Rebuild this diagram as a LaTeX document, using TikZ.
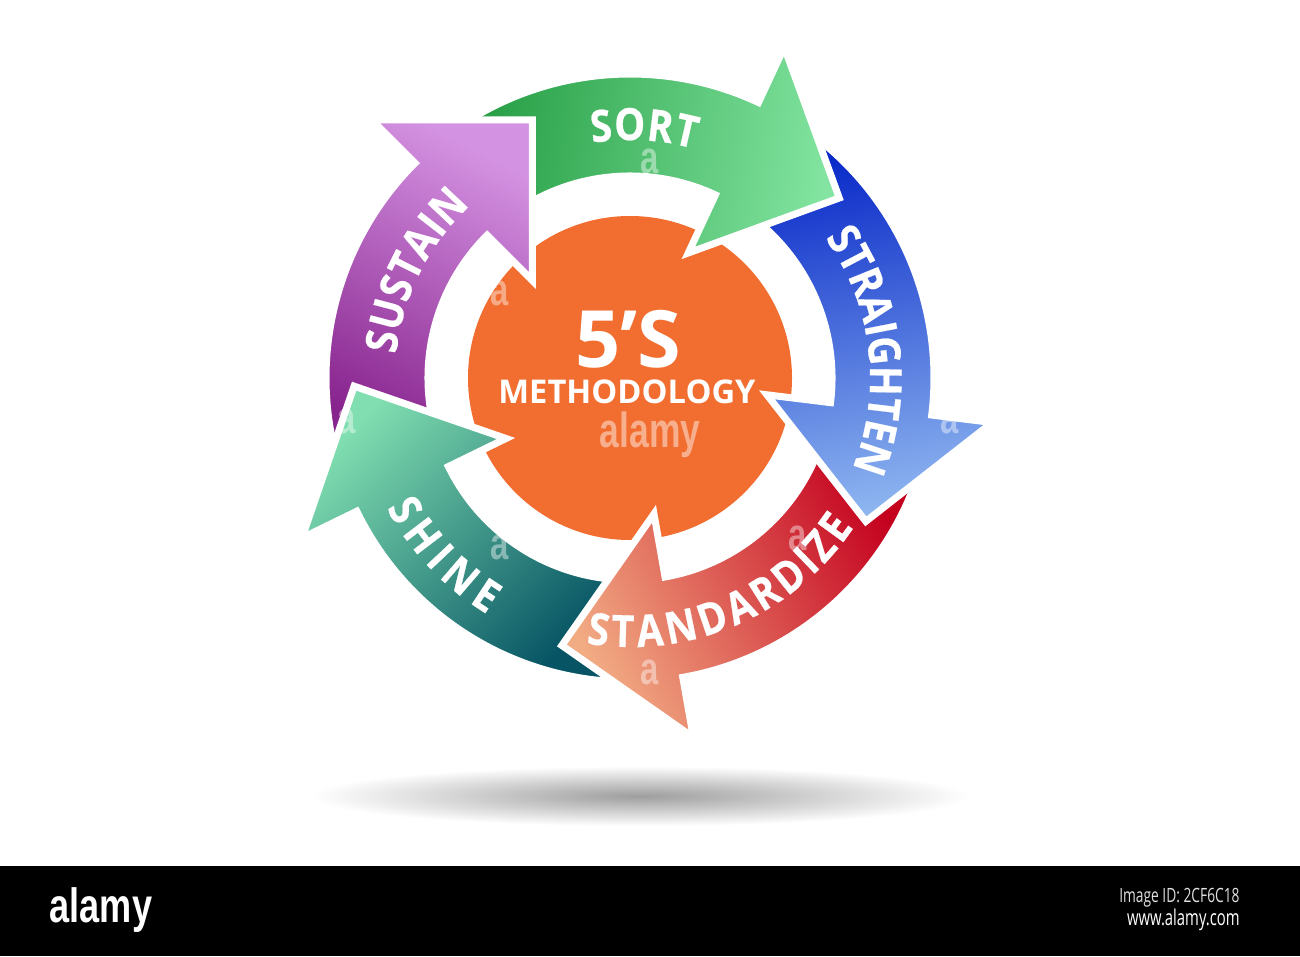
\documentclass[tikz,border=0pt]{standalone}
\usepackage{fontspec}
\setmainfont{Open Sans}
\newfontfamily\ringfamily[FakeStretch=0.88, BoldFeatures={FakeBold=0.5}]{Open Sans}
\newfontfamily\logofont{Liberation Sans}
\usetikzlibrary{decorations.text}

\definecolor{sortdark}{RGB}{38,158,68}
\definecolor{sortlight}{RGB}{130,228,160}
\definecolor{straightdark}{RGB}{8,40,200}
\definecolor{straightlight}{RGB}{142,182,240}
\definecolor{standarddark}{RGB}{196,0,30}
\definecolor{standardlight}{RGB}{242,172,132}
\definecolor{shinedark}{RGB}{6,84,100}
\definecolor{shinelight}{RGB}{128,222,176}
\definecolor{sustaindark}{RGB}{136,36,142}
\definecolor{sustainlight}{RGB}{212,146,226}
\definecolor{hub}{RGB}{242,110,48}

\newcommand{\ringfont}{\ringfamily\bfseries\fontsize{12.6}{14}\selectfont}
% ring arrow: #1 head angle, #2 tail angle
\newcommand{\ringarrow}[2]{(#2:3.04) arc[start angle=#2, end angle=#1, radius=3.04]
  -- (#1:3.65) -- ({#1-24.3}:2.76) -- (#1:1.38) -- (#1:2.02)
  arc[start angle=#1, end angle=#2, radius=2.02] -- cycle}

\tikzset{
  cycleshape/.style={draw=white, line width=2pt, line join=miter},
  ringlabel/.style={decorate, decoration={text along path, text color=white,
    text align={fit to path}, raise=-0.16cm}},
  marka/.style={text=white, opacity=0.42, font=\logofont\bfseries\fontsize{13}{13}\selectfont}
}

\begin{document}
\begin{tikzpicture}
\useasboundingbox (-6.30,-5.78) rectangle (6.70,3.78);
\fill[white] (-6.30,-5.78) rectangle (6.70,3.78);

% shadow under the wheel
\shade[inner color=black!38, outer color=white] (0.10,-4.18) ellipse (3.3 and 0.3);

% hub
\fill[hub] (0,0) circle (1.62);

% arrows, drawn from the last one back to the first
\path[cycleshape, top color=sustaindark, bottom color=sustainlight, shading angle=152.5] \ringarrow{-225}{-166};
\path[cycleshape, top color=shinedark, bottom color=shinelight, shading angle=-135] \ringarrow{-154}{-92};
\path[cycleshape, top color=standarddark, bottom color=standardlight, shading angle=-61.5] \ringarrow{-80}{-19};
\path[cycleshape, top color=straightdark, bottom color=straightlight, shading angle=11] \ringarrow{-7}{53};
\path[cycleshape, top color=sortdark, bottom color=sortlight, shading angle=82] \ringarrow{65}{123};
% sustain head again, over the tail of sort
\begin{scope}
  \clip (-3.4,0.5) rectangle (-0.4,3.4);
  \path[cycleshape, top color=sustaindark, bottom color=sustainlight, shading angle=152.5] \ringarrow{-225}{-166};
\end{scope}

% labels on the ring
\path[ringlabel, decoration={text={|\ringfont|SORT}}] (99:2.54) arc[start angle=99, end angle=74.5, radius=2.54];
\path[ringlabel, decoration={text={|\ringfont|STRAIGHTEN}}] (35.5:2.56) arc[start angle=35.5, end angle=-22, radius=2.56];
\path[ringlabel, decoration={text={|\ringfont|STANDARDIZE}}] (-99.5:2.53) arc[start angle=-99.5, end angle=-33.5, radius=2.53];
\path[ringlabel, decoration={text={|\ringfont|SHINE}}] (208:2.60) arc[start angle=208, end angle=239, radius=2.60];
\path[ringlabel, decoration={text={|\ringfont|SUSTAIN}}] (174:2.51) arc[start angle=174, end angle=133, radius=2.51];

% centre text
\node[text=white, font=\bfseries\fontsize{22.5}{24}\selectfont] (fives) at (-0.02,0.39) {5’S};
\node[text=white, font=\bfseries\fontsize{9.3}{11}\selectfont] (method) at (-0.03,-0.14) {METHODOLOGY};

% watermarks
\node[text=white, opacity=0.45, font=\logofont\bfseries\fontsize{14}{14}\selectfont] (wmark) at (0.20,-0.57) {\scalebox{0.72}[1]{alamy}};
\foreach \x/\y [count=\i] in {0.20/2.17, -1.30/0.85, -2.83/-0.43, 3.20/-0.43, -1.30/-1.69, 1.68/-1.60, 0.20/-2.94}
  \node[marka] (mark\i) at (\x,\y) {\scalebox{0.72}[1]{a}};

% bottom bar
\fill[black] (-6.30,-4.88) rectangle (6.70,-5.78);
\node[text=white, font=\logofont\bfseries\fontsize{13.7}{14}\selectfont, anchor=base] (logo) at (-5.29,-5.44) {\scalebox{0.75}[1]{alamy}};
\node[text=black!12, font=\fontsize{5.6}{7}\selectfont, anchor=east] (imgid) at (6.22,-5.20) {\scalebox{0.7}[1]{Image ID: 2CF6C18}};
\node[text=white, font=\fontsize{6.2}{7}\selectfont, anchor=east] (site) at (6.22,-5.42) {\scalebox{0.68}[1]{www.alamy.com}};
\end{tikzpicture}
\end{document}
